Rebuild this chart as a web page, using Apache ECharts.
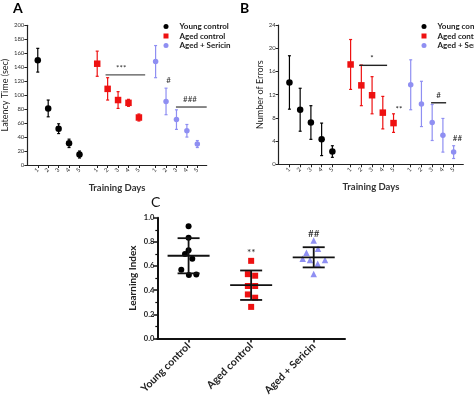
<!DOCTYPE html>
<html><head><meta charset="utf-8">
<script src="https://cdn.jsdelivr.net/npm/echarts@6/dist/echarts.min.js"></script>
<style>html,body{margin:0;padding:0;background:#fff}#c{width:474px;height:398px}</style>
</head><body><div id="c"></div>
<script>
// ---------- data ----------
const days = ['1', '2', '3', '4', '5'];
const groupNames = ['Young control', 'Aged control', 'Aged + Sericin'];

const latencyYoung = [150, 81, 52, 31, 15];
const latencyYoungErr = [17, 12, 7, 6, 5];
const latencyAged = [145, 109, 93, 89, 68];
const latencyAgedErr = [18, 16, 12, 5, 5];
const latencySericin = [148, 91, 65, 49, 30];
const latencySericinErr = [23, 19, 14, 9, 5];

const errorsYoung = [14.1, 9.4, 7.2, 4.3, 2.2];
const errorsYoungErr = [4.6, 3.7, 2.9, 2.8, 1.0];
const errorsAged = [17.2, 13.6, 11.9, 8.9, 7.1];
const errorsAgedErr = [4.3, 3.5, 3.2, 2.8, 1.6];
const errorsSericin = [13.7, 10.4, 7.2, 5.0, 2.1];
const errorsSericinErr = [4.3, 3.9, 3.1, 2.9, 1.1];

const liYoung = [0.93, 0.835, 0.73, 0.70, 0.66, 0.57, 0.525, 0.53];
const liAged = [0.643, 0.533, 0.52, 0.435, 0.435, 0.365, 0.338, 0.262];
const liSericin = [0.811, 0.711, 0.744, 0.66, 0.649, 0.649, 0.619, 0.535];

const latencyTicks = [0, 20, 40, 60, 80, 100, 120, 140, 160, 180, 200];
const errorTicks = [0, 4, 8, 12, 16, 20, 24];
const indexTicks = [0, 0.2, 0.4, 0.6, 0.8, 1.0];

// significance annotations: [group, dayFrom, dayTo, yValue, text]
const sigLinesA = [[1, 0.8, 4.6, 129], [2, 1.95, 4.9, 83]];
const sigTextA = [[1, 2.3, 133, '***'], [2, 1.25, 116, '#'], [2, 3.3, 88, '###']];
const sigLinesB = [[1, 0.8, 3.4, 17.05], [2, 1.9, 3.3, 10.6]];
const sigTextB = [[1, 2.0, 17.6, '*'], [1, 4.5, 8.7, '**'], [2, 2.6, 11.2, '#'], [2, 4.35, 3.8, '##']];
const sigTextC = [[1, 0.71, '**'], [2, 0.87, '##']];

// ---------- layout / style ----------
const groupStart = [1, 6.7, 12.3];
const colors = ['#000000', '#ee1111', '#8f8ff2'];
const symbols = ['circle', 'rect', 'circle'];
const symSizes = [6.5, 6.5, 5.5];
const jitter = [
  [0, 0, 0, -3.6, 3.7, -7.3, 0.3, 7.7],
  [0, -3.3, 4, -3.3, 4, -3.3, 4, 0],
  [0, -7.3, 4.3, -11, -3.7, 11.3, 4, 0]
];
const FONT = 'Lato, "Open Sans", sans-serif';

const xPos = (g, d) => groupStart[g] + d;
const xTickVals = [];
const xTickLabels = [];
for (let g = 0; g < 3; g++) for (let d = 0; d < days.length; d++) { xTickVals.push(xPos(g, d)); xTickLabels.push(days[d]); }
const xLabelFmt = v => { const i = xTickVals.findIndex(t => Math.abs(t - v) < 1e-6); return i >= 0 ? xTickLabels[i] : ''; };

function meanSeries(name, g, means, xi, yi) {
  return {
    type: 'scatter', name: name, xAxisIndex: xi, yAxisIndex: yi,
    symbol: symbols[g], symbolSize: symSizes[g], z: 5,
    itemStyle: { color: colors[g], opacity: 1 },
    data: means.map((m, d) => [xPos(g, d), m])
  };
}
function errSeries(g, means, errs, xi, yi) {
  return {
    type: 'custom', xAxisIndex: xi, yAxisIndex: yi, z: 3, silent: true,
    data: means.map((m, d) => [xPos(g, d), m, errs[d]]),
    renderItem: (p, api) => {
      const x = api.value(0), y = api.value(1), e = api.value(2);
      const t = api.coord([x, y + e]), b = api.coord([x, y - e]);
      const st = { stroke: colors[g], lineWidth: 1.2 };
      const c = 1.5;
      return { type: 'group', children: [
        { type: 'line', shape: { x1: t[0], y1: t[1], x2: b[0], y2: b[1] }, style: st },
        { type: 'line', shape: { x1: t[0] - c, y1: t[1], x2: t[0] + c, y2: t[1] }, style: st },
        { type: 'line', shape: { x1: b[0] - c, y1: b[1], x2: b[0] + c, y2: b[1] }, style: st }
      ]};
    }
  };
}
function sigLineSeries(lines, xi, yi, color) {
  return {
    type: 'custom', xAxisIndex: xi, yAxisIndex: yi, silent: true, z: 4,
    data: lines.map(l => [xPos(l[0], l[1]), xPos(l[0], l[2]), l[3]]),
    renderItem: (p, api) => {
      const a = api.coord([api.value(0), api.value(2)]);
      const b = api.coord([api.value(1), api.value(2)]);
      return { type: 'line', shape: { x1: a[0], y1: a[1], x2: b[0], y2: b[1] }, style: { stroke: color, lineWidth: 1.4 } };
    }
  };
}
function sigTextSeries(items, xi, yi, color) {
  return {
    type: 'custom', xAxisIndex: xi, yAxisIndex: yi, silent: true, z: 4,
    data: items.map(s => [xPos(s[0], s[1]), s[2]]),
    renderItem: (p, api) => {
      const a = api.coord([api.value(0), api.value(1)]);
      return { type: 'text', x: a[0], y: a[1], style: { text: items[p.dataIndex][3], fill: color, font: '8px ' + FONT, align: 'center', verticalAlign: 'bottom' } };
    }
  };
}

function sdStats(arr) {
  const m = arr.reduce((s, v) => s + v, 0) / arr.length;
  const sd = Math.sqrt(arr.reduce((s, v) => s + (v - m) * (v - m), 0) / (arr.length - 1));
  return [m, sd];
}
const liSets = [liYoung, liAged, liSericin];

const valueXAxis = (gi) => ({
  type: 'value', gridIndex: gi, min: 0, max: 17.2,
  name: 'Training Days', nameLocation: 'middle', nameGap: 18,
  nameTextStyle: { fontSize: 9.5, color: '#333', fontFamily: FONT, fontWeight: 'bold' },
  splitLine: { show: false },
  axisLine: { show: true, lineStyle: { color: '#222', width: 1.2 } },
  axisTick: { show: true, customValues: xTickVals, length: 3, lineStyle: { color: '#222' } },
  axisLabel: { customValues: xTickVals, formatter: xLabelFmt, rotate: 45, fontSize: 6, color: '#333', margin: 4, fontFamily: FONT }
});
const valueYAxis = (gi, max, interval, name, gap) => ({
  type: 'value', gridIndex: gi, min: 0, max: max, interval: interval,
  name: name, nameLocation: 'middle', nameGap: gap,
  nameTextStyle: { fontSize: 9, color: '#222', fontFamily: FONT },
  splitLine: { show: false },
  axisLine: { show: true, lineStyle: { color: '#222', width: 1.2 } },
  axisTick: { show: true, length: 3, lineStyle: { color: '#222' } },
  axisLabel: { fontSize: 6, color: '#333', margin: 3, fontFamily: FONT }
});

const legendBase = {
  orient: 'vertical', itemWidth: 5, itemHeight: 5, itemGap: 1.5,
  textStyle: { fontSize: 8, fontWeight: 'bold', color: '#1a1a1a', fontFamily: FONT, lineHeight: 8, padding: [0, 0, 0, 6] },
  data: groupNames, selectedMode: false
};

const option = {
  animation: false,
  grid: [
    { left: 22, top: 25.3, width: 184.7, height: 139.7 },
    { left: 278.7, top: 25, width: 184.6, height: 139.3 },
    { left: 157.3, top: 217.7, width: 187.7, height: 123.3 }
  ],
  legend: [
    Object.assign({}, legendBase, { left: 158.5, top: 17.5 }),
    Object.assign({}, legendBase, { left: 416.5, top: 17.5 })
  ],
  xAxis: [
    valueXAxis(0), valueXAxis(1),
    {
      type: 'category', gridIndex: 2, data: groupNames,
      axisLine: { show: true, lineStyle: { color: '#111', width: 2 } },
      axisTick: { show: true, alignWithLabel: true, length: 4, lineStyle: { color: '#111', width: 1.5 } },
      axisLabel: { rotate: 45, fontSize: 10.5, fontWeight: 'bold', color: '#222', margin: 6, fontFamily: FONT, interval: 0 }
    }
  ],
  yAxis: [
    valueYAxis(0, 200, 20, 'Latency Time (sec)', 11),
    valueYAxis(1, 24, 4, 'Number of Errors', 10),
    {
      type: 'value', gridIndex: 2, min: 0, max: 1, interval: 0.2,
      name: 'Learning Index', nameLocation: 'middle', nameGap: 20,
      nameTextStyle: { fontSize: 10, color: '#222', fontFamily: FONT, fontWeight: 'bold' },
      splitLine: { show: false },
      axisLine: { show: true, lineStyle: { color: '#111', width: 2 } },
      axisTick: { show: true, length: 4, lineStyle: { color: '#111', width: 1.5 } },
      minorTick: { show: true, splitNumber: 2, length: 2, lineStyle: { color: '#111', width: 1.2 } },
      axisLabel: { fontSize: 7.5, fontWeight: 'bold', color: '#222', margin: 3, fontFamily: FONT, formatter: v => v.toFixed(1) }
    }
  ],
  graphic: [
    { type: 'text', left: 13, top: 1, style: { text: 'A', font: 'bold 14px ' + FONT, fill: '#000' } },
    { type: 'text', left: 240, top: 1, style: { text: 'B', font: 'bold 14px ' + FONT, fill: '#000' } },
    { type: 'text', left: 151, top: 195, style: { text: 'C', font: '14px ' + FONT, fill: '#111' } }
  ],
  series: []
};

const latM = [latencyYoung, latencyAged, latencySericin];
const latE = [latencyYoungErr, latencyAgedErr, latencySericinErr];
const errM = [errorsYoung, errorsAged, errorsSericin];
const errE = [errorsYoungErr, errorsAgedErr, errorsSericinErr];
for (let g = 0; g < 3; g++) {
  option.series.push(errSeries(g, latM[g], latE[g], 0, 0));
  option.series.push(meanSeries(groupNames[g], g, latM[g], 0, 0));
  option.series.push(errSeries(g, errM[g], errE[g], 1, 1));
  option.series.push(meanSeries(groupNames[g], g, errM[g], 1, 1));
}
option.series.push(sigLineSeries(sigLinesA, 0, 0, '#555'));
option.series.push(sigTextSeries(sigTextA, 0, 0, '#333'));
option.series.push(sigLineSeries(sigLinesB, 1, 1, '#222'));
option.series.push(sigTextSeries(sigTextB, 1, 1, '#222'));

// panel C
const cSymbols = ['circle', 'rect', 'triangle'];
const cSizes = [6, 6, 6.5];
for (let g = 0; g < 3; g++) {
  option.series.push({
    type: 'scatter', xAxisIndex: 2, yAxisIndex: 2, z: 3,
    symbol: cSymbols[g], symbolSize: cSizes[g], itemStyle: { color: colors[g], opacity: 1 },
    data: liSets[g].map((v, i) => ({ value: [g, v], symbolOffset: [jitter[g][i], 0] }))
  });
}
option.series.push({
  type: 'custom', xAxisIndex: 2, yAxisIndex: 2, z: 5, silent: true,
  data: liSets.map((arr, g) => { const s = sdStats(arr); return [g, s[0], s[1]]; }),
  renderItem: (p, api) => {
    const g = api.value(0), m = api.value(1), sd = api.value(2);
    const c = api.coord([g, m]), t = api.coord([g, m + sd]), b = api.coord([g, m - sd]);
    const st = { stroke: '#111', lineWidth: 1.8 };
    const mw = 21, cw = 11;
    return { type: 'group', children: [
      { type: 'line', shape: { x1: c[0] - mw, y1: c[1], x2: c[0] + mw, y2: c[1] }, style: st },
      { type: 'line', shape: { x1: t[0], y1: t[1], x2: b[0], y2: b[1] }, style: st },
      { type: 'line', shape: { x1: t[0] - cw, y1: t[1], x2: t[0] + cw, y2: t[1] }, style: st },
      { type: 'line', shape: { x1: b[0] - cw, y1: b[1], x2: b[0] + cw, y2: b[1] }, style: st }
    ]};
  }
});
option.series.push({
  type: 'custom', xAxisIndex: 2, yAxisIndex: 2, z: 5, silent: true,
  data: sigTextC.map(s => [s[0], s[1]]),
  renderItem: (p, api) => {
    const a = api.coord([api.value(0), api.value(1)]);
    return { type: 'text', x: a[0], y: a[1], style: { text: sigTextC[p.dataIndex][2], fill: '#222', font: '10px ' + FONT, align: 'center', verticalAlign: 'middle' } };
  }
});

const chart = echarts.init(document.getElementById('c'), null, { renderer: 'canvas' });
chart.setOption(option);
</script></body></html>
